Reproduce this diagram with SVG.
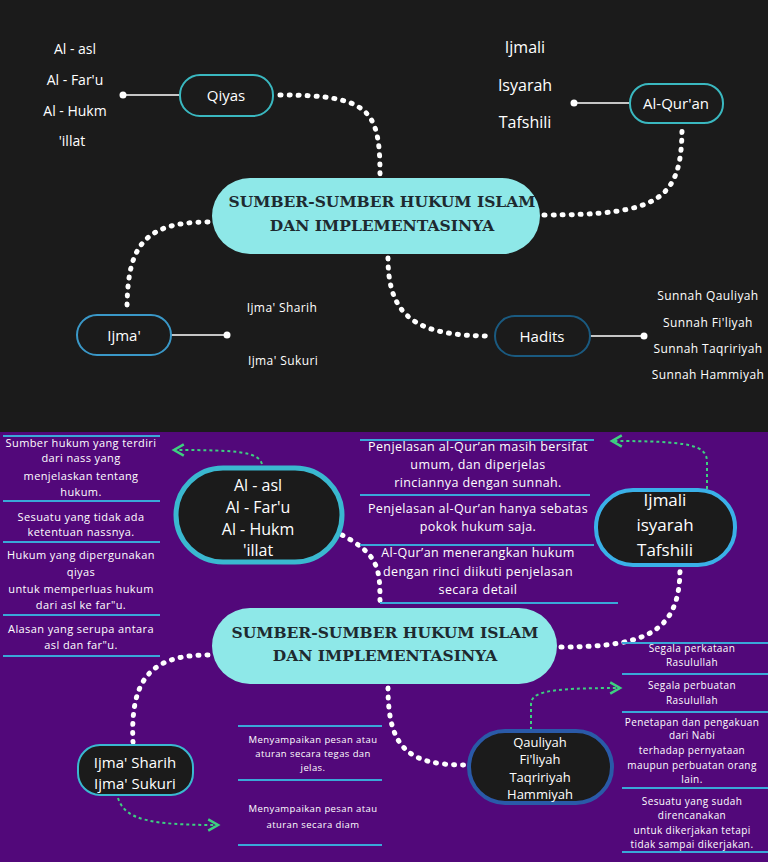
<svg xmlns="http://www.w3.org/2000/svg" width="768" height="862" viewBox="0 0 768 862">
<style>
.t{font-family:"Open Sans","Liberation Sans",sans-serif;fill:#fff;text-anchor:middle}
.sm{letter-spacing:0.4px}
.ttl{font-family:"DejaVu Serif","Liberation Serif",serif;font-weight:bold;fill:#1e2a30;font-size:15.5px;text-anchor:middle}
.dot{fill:none;stroke:#fff;stroke-width:5;stroke-dasharray:1 8;stroke-linecap:round}
.g{fill:none;stroke:#3dd080;stroke-width:2;stroke-dasharray:3 3}
.hl{stroke:#3aa8d8;stroke-width:2}
.ln{stroke:#fff;stroke-width:1.5}
.ctr{fill:#8ee8e8}
.dark{fill:#1b1b1b}
</style>
<defs>
<marker id="ah" viewBox="0 0 10 10" refX="8" refY="5" markerWidth="7" markerHeight="7" orient="auto"><path d="M1,1 L8,5 L1,9" fill="none" stroke="#3dd080" stroke-width="1.8"/></marker>
</defs>
<rect x="0" y="0" width="768" height="432" fill="#1b1b1b"/>
<rect x="0" y="432" width="768" height="430" fill="#52087a"/>

<g id="connectors">
<path class="dot" d="M280,95 C370,95 380,110 380,175"/>
<path class="dot" d="M544,215 C660,215 682,200 682,127"/>
<path class="dot" d="M208,222 C140,222 127,250 127,312"/>
<path class="dot" d="M388,258 C388,320 420,336 492,336"/>
<line class="ln" x1="123" y1="95" x2="180" y2="95"/><circle cx="123" cy="95" r="3.5" fill="#fff"/>
<line class="ln" x1="574" y1="103" x2="630" y2="103"/><circle cx="574" cy="103" r="3.5" fill="#fff"/>
<line class="ln" x1="171" y1="335" x2="227" y2="335"/><circle cx="227" cy="335" r="3.5" fill="#fff"/>
<line class="ln" x1="590" y1="336" x2="644" y2="336"/><circle cx="644" cy="336" r="3.5" fill="#fff"/>

<path class="dot" d="M342,535 C380,555 380,570 380,604"/>
<path class="dot" d="M561,647 C650,647 680,630 680,568"/>
<path class="dot" d="M208,655 C150,655 130,680 133,742"/>
<path class="dot" d="M388,688 C388,750 410,765 466,765"/>
<path class="g" marker-end="url(#ah)" d="M262,464 C258,452 240,450 174,450"/>
<path class="g" marker-end="url(#ah)" d="M707,489 L707,462 C707,445 690,441 612,441"/>
<path class="g" marker-end="url(#ah)" d="M118,798 C125,820 150,825 218,825"/>
<path class="g" marker-end="url(#ah)" d="M531,730 L531,705 C531,692 545,688 620,688"/>
</g>

<g id="center-top"><rect class="ctr" x="212" y="178" width="328" height="76" rx="38"/>
<text class="ttl" x="382" y="207" font-size="15">SUMBER-SUMBER HUKUM ISLAM</text><text class="ttl" x="382" y="231" font-size="15">DAN IMPLEMENTASINYA</text></g>
<g id="qiyas"><rect x="180" y="75" width="93" height="41" rx="20" fill="#1b1b1b" stroke="#3ab8c0" stroke-width="2"/><text class="t" x="226" y="101" font-size="15">Qiyas</text></g>
<g id="qiyas-labels" font-size="14"><text class="t" x="75" y="54">Al - asl</text><text class="t" x="75" y="85">Al - Far'u</text><text class="t" x="75" y="116">Al - Hukm</text><text class="t" x="72" y="146">'illat</text></g>
<g id="quran"><rect x="630" y="84" width="93" height="39" rx="19" fill="#1b1b1b" stroke="#3ab8c0" stroke-width="2"/><text class="t" x="676" y="109" font-size="15">Al-Qur'an</text></g>
<g id="quran-labels" font-size="16"><text class="t" x="525" y="53">Ijmali</text><text class="t" x="525" y="91">Isyarah</text><text class="t" x="525" y="128">Tafshili</text></g>
<g id="ijma"><rect x="77" y="315" width="94" height="40" rx="20" fill="#1b1b1b" stroke="#3a98c8" stroke-width="2"/><text class="t" x="124" y="341" font-size="15">Ijma'</text></g>
<g id="ijma-labels" font-size="12"><text class="t sm" x="282" y="312">Ijma' Sharih</text><text class="t sm" x="283" y="365">Ijma' Sukuri</text></g>
<g id="hadits"><rect x="495" y="316" width="95" height="40" rx="20" fill="#1b1b1b" stroke="#1a5a80" stroke-width="2"/><text class="t" x="542" y="342" font-size="15">Hadits</text></g>
<g id="hadits-labels" font-size="12"><text class="t sm" x="708" y="300">Sunnah Qauliyah</text><text class="t sm" x="708" y="327">Sunnah Fi'liyah</text><text class="t sm" x="708" y="353">Sunnah Taqririyah</text><text class="t sm" x="708" y="379">Sunnah Hammiyah</text></g>

<g id="center-bottom"><rect class="ctr" x="212" y="608" width="345" height="76" rx="38"/>
<text class="ttl" x="385" y="638">SUMBER-SUMBER HUKUM ISLAM</text><text class="ttl" x="385" y="661">DAN IMPLEMENTASINYA</text></g>
<g id="qiyas-detail"><rect class="dark" x="176" y="468" width="166" height="94" rx="47" stroke="#3ab8d0" stroke-width="5"/>
<g font-size="16"><text class="t" x="258" y="491">Al - asl</text><text class="t" x="258" y="513">Al - Far'u</text><text class="t" x="258" y="535">Al - Hukm</text><text class="t" x="258" y="556">'illat</text></g></g>
<g id="qiyas-desc" font-size="11" class="sm">
<line class="hl" x1="3" y1="436" x2="160" y2="436"/><line class="hl" x1="3" y1="501" x2="160" y2="501"/><line class="hl" x1="3" y1="542" x2="160" y2="542"/><line class="hl" x1="3" y1="615" x2="160" y2="615"/><line class="hl" x1="3" y1="656" x2="160" y2="656"/>
<text class="t" x="81" y="447">Sumber hukum yang terdiri</text><text class="t" x="81" y="462">dari nass yang</text><text class="t" x="81" y="480">menjelaskan tentang</text><text class="t" x="81" y="496">hukum.</text>
<text class="t" x="81" y="521">Sesuatu yang tidak ada</text><text class="t" x="81" y="536">ketentuan nassnya.</text>
<text class="t" x="81" y="559">Hukum yang dipergunakan</text><text class="t" x="81" y="576">qiyas</text><text class="t" x="81" y="593">untuk memperluas hukum</text><text class="t" x="81" y="609">dari asl ke far"u.</text>
<text class="t" x="81" y="633">Alasan yang serupa antara</text><text class="t" x="81" y="649">asl dan far"u.</text></g>
<g id="ijmali-node"><rect class="dark" x="596" y="490" width="139" height="75" rx="37" stroke="#3ab0e8" stroke-width="4"/>
<g font-size="17"><text class="t" x="665" y="506">Ijmali</text><text class="t" x="665" y="531">isyarah</text><text class="t" x="665" y="556">Tafshili</text></g></g>
<g id="quran-desc" font-size="12.5" class="sm">
<line class="hl" x1="360" y1="440" x2="594" y2="440"/><line class="hl" x1="360" y1="495" x2="590" y2="495"/><line class="hl" x1="360" y1="545" x2="594" y2="545"/><line class="hl" x1="380" y1="603" x2="618" y2="603"/>
<text class="t" x="478" y="451">Penjelasan al-Qur’an masih bersifat</text><text class="t" x="478" y="469">umum, dan diperjelas</text><text class="t" x="478" y="487">rinciannya dengan sunnah.</text>
<text class="t" x="478" y="513">Penjelasan al-Qur’an hanya sebatas</text><text class="t" x="478" y="531">pokok hukum saja.</text>
<text class="t" x="478" y="557">Al-Qur’an menerangkan hukum</text><text class="t" x="478" y="576">dengan rinci diikuti penjelasan</text><text class="t" x="478" y="594">secara detail</text></g>
<g id="ijma-node"><rect class="dark" x="78" y="745" width="115" height="50" rx="22" stroke="#3ab8d0" stroke-width="2"/>
<g font-size="15"><text class="t" x="135" y="768">Ijma' Sharih</text><text class="t" x="135" y="789">Ijma' Sukuri</text></g></g>
<g id="ijma-desc" font-size="9.5" class="sm">
<line class="hl" x1="238" y1="726" x2="382" y2="726"/><line class="hl" x1="238" y1="780" x2="382" y2="780"/><line class="hl" x1="238" y1="845" x2="382" y2="845"/>
<text class="t" x="313" y="743">Menyampaikan pesan atau</text><text class="t" x="313" y="757">aturan secara tegas dan</text><text class="t" x="313" y="771">jelas.</text>
<text class="t" x="313" y="812">Menyampaikan pesan atau</text><text class="t" x="313" y="828">aturan secara diam</text></g>
<g id="hadits-node"><rect class="dark" x="469" y="731" width="143" height="72" rx="36" stroke="#2a5aa8" stroke-width="4"/>
<g font-size="13"><text class="t" x="540" y="747">Qauliyah</text><text class="t" x="540" y="764">Fi'liyah</text><text class="t" x="540" y="782">Taqririyah</text><text class="t" x="540" y="799">Hammiyah</text></g></g>
<g id="hadits-desc" font-size="10" class="sm">
<line class="hl" x1="622" y1="643" x2="768" y2="643"/><line class="hl" x1="622" y1="674" x2="768" y2="674"/><line class="hl" x1="622" y1="712" x2="768" y2="712"/><line class="hl" x1="622" y1="788" x2="768" y2="788"/><line class="hl" x1="622" y1="852" x2="768" y2="852"/>
<text class="t" x="692" y="652">Segala perkataan</text><text class="t" x="692" y="666">Rasulullah</text>
<text class="t" x="692" y="689">Segala perbuatan</text><text class="t" x="692" y="704">Rasulullah</text>
<text class="t" x="692" y="726">Penetapan dan pengakuan</text><text class="t" x="692" y="739">dari Nabi</text><text class="t" x="692" y="754">terhadap pernyataan</text><text class="t" x="692" y="769">maupun perbuatan orang</text><text class="t" x="692" y="783">lain.</text>
<text class="t" x="692" y="805">Sesuatu yang sudah</text><text class="t" x="692" y="819">direncanakan</text><text class="t" x="692" y="834">untuk dikerjakan tetapi</text><text class="t" x="692" y="848">tidak sampai dikerjakan.</text></g>
</svg>
